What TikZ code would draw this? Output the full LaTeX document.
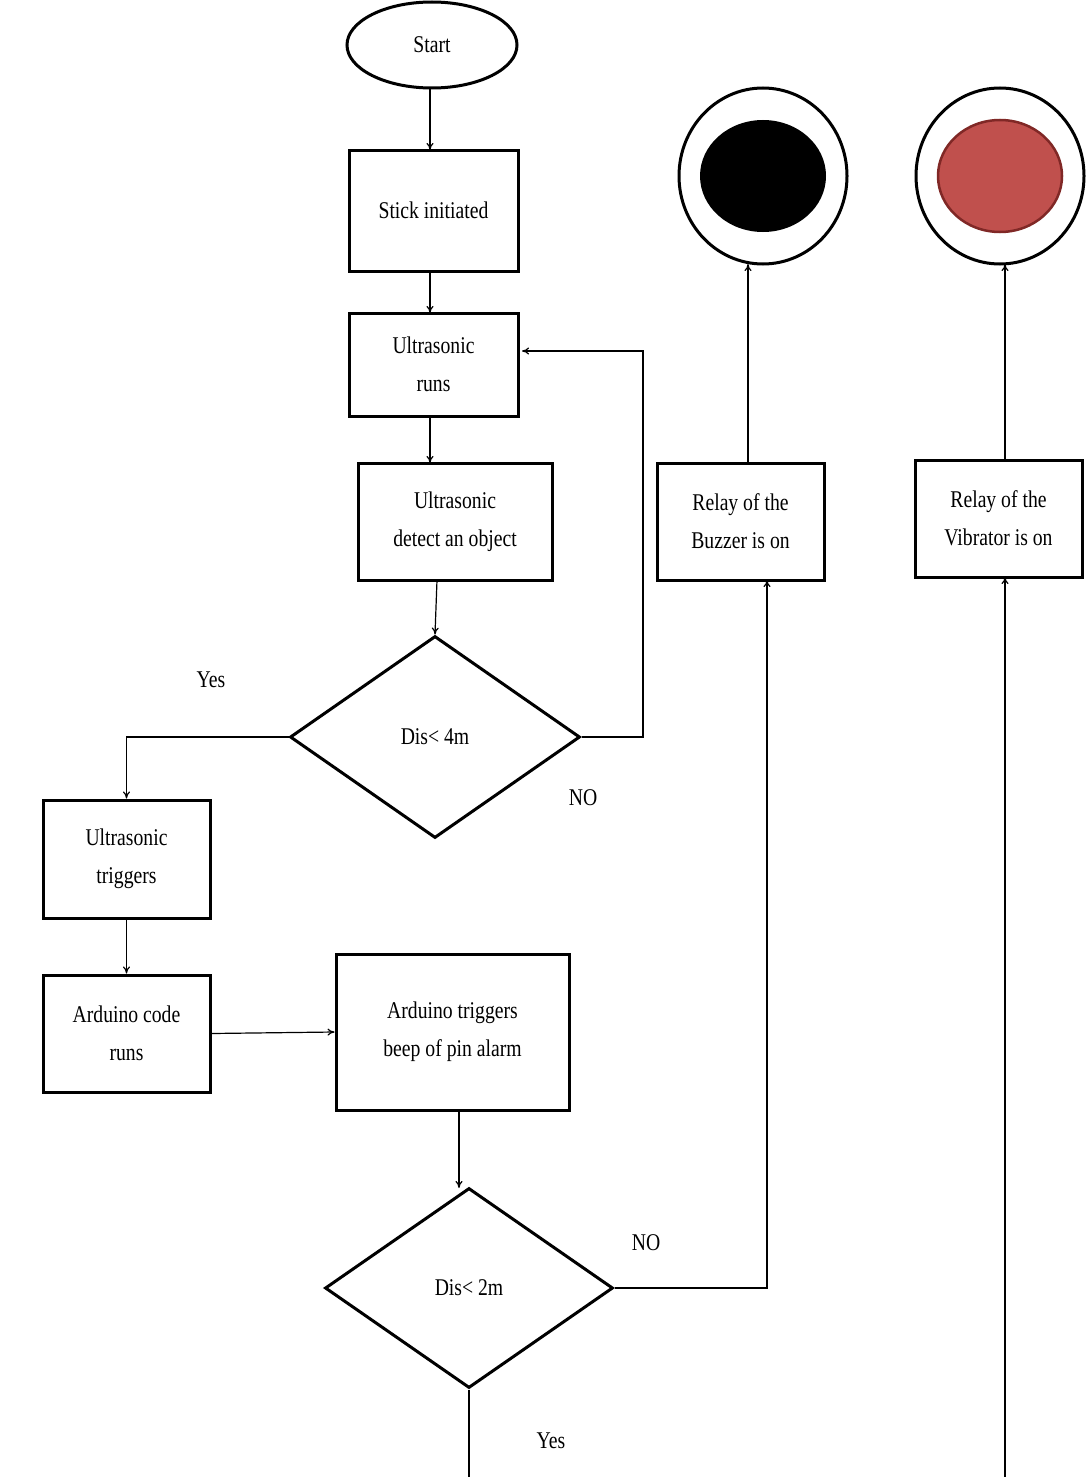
\documentclass[tikz,border=0pt]{standalone}
\usepackage{fontspec}
\setmainfont{Liberation Serif}[FakeStretch=0.82]
\usetikzlibrary{shapes.geometric,arrows.meta}
\begin{document}
\begin{tikzpicture}[x=1pt,y=-1pt,
  box/.style={draw,line width=3pt,minimum width=#1,inner sep=0pt,align=center,font=\fontsize{24}{38}\selectfont},
  dia/.style={draw,diamond,line width=3pt,inner sep=0pt,minimum width=290pt,minimum height=202pt,font=\fontsize{24}{28}\selectfont},
  arr/.style={-{To[length=7pt,width=7pt]},line width=1.2pt},
  ln/.style={line width=1.2pt},
  lab/.style={font=\fontsize{24}{28}\selectfont}]
\useasboundingbox (0,0) rectangle (1089,1477);
\fill[white] (0,0) rectangle (1089,1477);
\node[draw,ellipse,line width=3pt,minimum width=170pt,minimum height=86pt,font=\fontsize{24}{28}\selectfont] (start) at (432,45) {Start};
\node[box=169pt,minimum height=121pt] (stick) at (433.5,210.5) {Stick initiated};
\node[box=169pt,minimum height=103pt] (runs) at (433.5,364.5) {Ultrasonic\\runs};
\node[box=194pt,minimum height=117pt] (detect) at (455,521.5) {Ultrasonic\\detect an object};
\node[dia] (d1) at (435,737) {Dis< 4m};
\node[box=167pt,minimum height=118pt] (trig) at (126.5,859) {Ultrasonic\\triggers};
\node[box=167pt,minimum height=117pt] (code) at (126.5,1033.5) {Arduino code\\runs};
\node[box=233pt,minimum height=156pt] (beep) at (452.5,1032) {Arduino triggers\\beep of pin alarm};
\node[dia,minimum width=288pt,minimum height=200pt] (d2) at (469,1288) {Dis< 2m};
\node[box=167pt,minimum height=117pt] (rb) at (740.5,521.5) {Relay of the\\Buzzer is on};
\node[box=167pt,minimum height=117pt] (rv) at (998.5,518.5) {Relay of the\\Vibrator is on};
\node[draw,ellipse,line width=3pt,minimum width=168pt,minimum height=176pt] (cb) at (763,176) {};
\node[ellipse,fill=black,minimum width=126pt,minimum height=112pt] at (763,176) {};
\node[draw,ellipse,line width=3pt,minimum width=168pt,minimum height=176pt] (cv) at (1000,176) {};
\node[ellipse,fill={rgb,255:red,192;green,80;blue,77},draw={rgb,255:red,128;green,40;blue,38},line width=2.5pt,minimum width=124pt,minimum height=112pt] at (1000,176) {};
\node[lab] at (211,680) {Yes};
\node[lab] at (583,798) {NO};
\node[lab] at (646,1243) {NO};
\node[lab] at (551,1441) {Yes};
\coordinate (bot2) at (469,1477);
\coordinate (botv) at (1005,1477);
\coordinate (loopin) at (522,351);
\draw[arr] (430,88) -- (430,150);
\draw[arr] (430,271) -- (430,313);
\draw[arr] (430,416) -- (430,463);
\draw[arr] (437,580) -- (d1.north);
\draw[arr] (d1.west) -| (trig.north);
\draw[arr] (d1.east) -- (643,737) |- (loopin);
\draw[arr] (trig.south) -- (code.north);
\draw[arr] (code.east) -- (beep.west);
\draw[arr] (459,1110) -- (459,1188);
\draw[arr] (d2.east) -| (767,580);
\draw[ln] (d2.south) -- (bot2);
\draw[arr] (748,463) -- (748,264);
\draw[arr] (botv) -- (1005,577);
\draw[arr] (1005,460) -- (1005,264);
\end{tikzpicture}
\end{document}
